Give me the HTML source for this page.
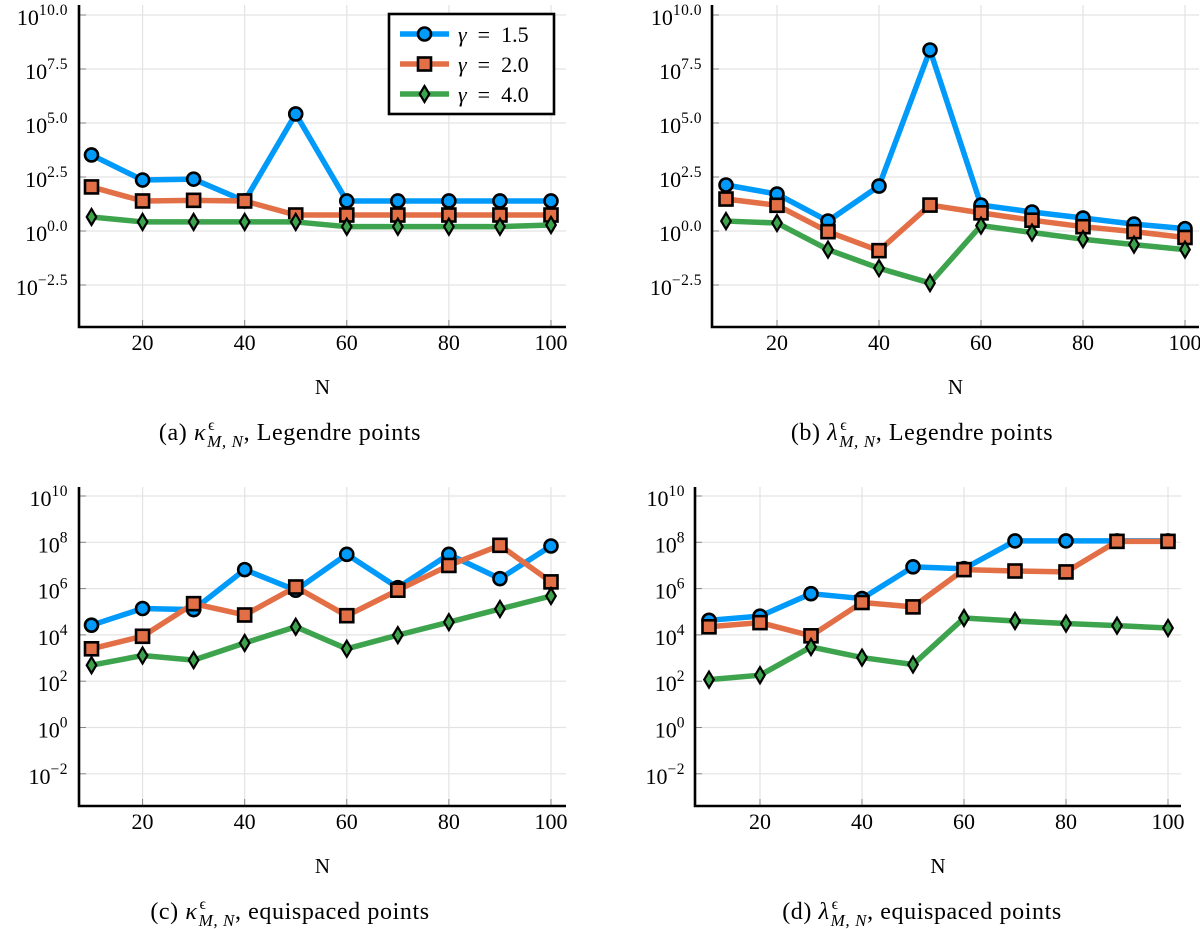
<!DOCTYPE html>
<html><head><meta charset="utf-8"><style>
body{margin:0;background:#fff}
svg{display:block;font-family:"Liberation Serif",serif}
</style></head><body>
<svg id="fig" width="1200" height="929" viewBox="0 0 1200 929"></svg>
<script>
const categoriesN=[10,20,30,40,50,60,70,80,90,100];
const seriesNames=["γ = 1.5","γ = 2.0","γ = 4.0"];
const xTickLabels=[20,40,60,80,100];
const yTicksTop=[10.0,7.5,5.0,2.5,0.0,-2.5];
const yTickLabelsTop=["10.0","7.5","5.0","2.5","0.0","−2.5"];
const yTicksBottom=[10,8,6,4,2,0,-2];
const yTickLabelsBottom=["10","8","6","4","2","0","−2"];
// log10 values
const aBlue=[3.52,2.36,2.4,1.39,5.42,1.39,1.39,1.39,1.39,1.39];
const aOrange=[2.04,1.39,1.42,1.39,0.74,0.74,0.74,0.74,0.74,0.74];
const aGreen=[0.65,0.42,0.42,0.42,0.42,0.2,0.2,0.2,0.2,0.28];
const bBlue=[2.13,1.71,0.46,2.08,8.38,1.2,0.88,0.6,0.32,0.11];
const bOrange=[1.48,1.19,-0.03,-0.91,1.2,0.84,0.5,0.2,-0.03,-0.3];
const bGreen=[0.46,0.37,-0.86,-1.72,-2.41,0.25,-0.07,-0.38,-0.63,-0.86];
const cBlue=[4.42,5.14,5.09,6.82,5.93,7.48,6.04,7.48,6.43,7.84];
const cOrange=[3.4,3.94,5.35,4.86,6.07,4.83,5.93,7.0,7.87,6.29];
const cGreen=[2.69,3.11,2.91,3.65,4.35,3.4,3.99,4.55,5.12,5.68];
const dBlue=[4.63,4.81,5.78,5.57,6.94,6.86,8.06,8.06,8.06,8.06];
const dOrange=[4.35,4.53,3.96,5.4,5.21,6.82,6.76,6.72,8.04,8.04];
const dGreen=[2.07,2.26,3.48,3.02,2.72,4.73,4.6,4.49,4.4,4.3];

const NS="http://www.w3.org/2000/svg";
const svg=document.getElementById('fig');
const COLORS=["#009AFA","#E26F46","#3DA44D"];
function mk(tag,attrs,parent){const e=document.createElementNS(NS,tag);for(const k in attrs)e.setAttribute(k,attrs[k]);(parent||svg).appendChild(e);return e;}
function marker(g,type,x,y,col){
  let m;
  if(type===0) m=mk('circle',{cx:x,cy:y,r:6.5,fill:col,stroke:'#000','stroke-width':2.6},g);
  else if(type===1) m=mk('rect',{x:x-6.5,y:y-6.5,width:13,height:13,fill:col,stroke:'#000','stroke-width':2.6},g);
  else m=mk('polygon',{points:`${x},${y-8} ${x+4.8},${y} ${x},${y+8} ${x-4.8},${y}`,fill:col,stroke:'#000','stroke-width':2.2},g);
  return m;
}
function panel(cfg){
  const g=mk('g',{});
  
  
  const xs=v=>cfg.x10+(v-10)*(cfg.x100-cfg.x10)/90;
  const ys=v=>cfg.y0+(cfg.yRef-v)*cfg.ppu;
  xTickLabels.forEach(t=>{const l=mk('line',{x1:xs(t),x2:xs(t),y1:cfg.top,y2:cfg.bottom,stroke:'#e3e3e3','stroke-width':1.2},g);
    
    mk('line',{x1:xs(t),x2:xs(t),y1:cfg.bottom,y2:cfg.bottom-7,stroke:'#888','stroke-width':1},g);});
  cfg.yTicks.forEach(t=>{const l=mk('line',{x1:cfg.left,x2:cfg.right,y1:ys(t),y2:ys(t),stroke:'#e3e3e3','stroke-width':1.2},g);
    
    mk('line',{x1:cfg.left,x2:cfg.left+7,y1:ys(t),y2:ys(t),stroke:'#888','stroke-width':1},g);});
  const ax=mk('path',{d:`M${cfg.left},${cfg.top} V${cfg.bottom} H${cfg.right}`,fill:'none',stroke:'#000','stroke-width':2.6},g);
  
  xTickLabels.forEach(t=>{const tx=mk('text',{x:xs(t),y:cfg.bottom+23,'text-anchor':'middle','font-size':22},g);tx.textContent=t;
    });
  cfg.yTicks.forEach((t,i)=>{const tx=mk('text',{x:cfg.labelRight,y:ys(t)+10,'text-anchor':'end','font-size':22},g);
    
    const a=mk('tspan',{},tx);a.textContent='10';
    const b=mk('tspan',{dy:-10,'font-size':15.5,'letter-spacing':0.5},tx);b.textContent=cfg.yLabels[i];});
  const nl=mk('text',{x:(cfg.left+cfg.right)/2,y:cfg.bottom+67,'text-anchor':'middle','font-size':21},g);nl.textContent='N';
  
  cfg.series.forEach((vals,si)=>{
    const sg=mk('g',{},g);
    
    
    const pts=vals.map((v,i)=>xs(categoriesN[i])+','+ys(v)).join(' ');
    mk('polyline',{points:pts,fill:'none',stroke:COLORS[si],'stroke-width':5.5,'stroke-linejoin':'round'},sg);
    vals.forEach((v,i)=>{const m=marker(sg,si,xs(categoriesN[i]),ys(v),COLORS[si]);
      });
  });
  const cap=mk('text',{x:cfg.capX,y:cfg.bottom+113,'text-anchor':'middle','font-size':24,'letter-spacing':0.6},g);
  
  let t=mk('tspan',{},cap);t.textContent='('+cfg.letter+') ';
  t=mk('tspan',{'font-style':'italic'},cap);t.textContent=cfg.sym;
  t=mk('tspan',{'font-size':16,dy:-10,dx:2},cap);t.textContent='ϵ';
  t=mk('tspan',{'font-size':17,'font-style':'italic',dy:17,dx:-8},cap);t.textContent='M, N';
  t=mk('tspan',{dy:-7},cap);t.textContent=', '+cfg.capText;
  return {g,xs,ys};
}
const topCfg={yTicks:yTicksTop,yLabels:yTickLabelsTop,yRef:0,y0:231,ppu:21.6,top:5,bottom:327};
const botCfg={yTicks:yTicksBottom,yLabels:yTickLabelsBottom,yRef:0,y0:727.5,ppu:23.15,top:487,bottom:806};
panel(Object.assign({},topCfg,{name:'panel-a',left:79,right:566,x10:91.5,x100:551,labelRight:68,series:[aBlue,aOrange,aGreen],capX:290,letter:'a',sym:'κ',capText:'Legendre points'}));
panel(Object.assign({},topCfg,{name:'panel-b',left:712,right:1199,x10:726,x100:1185,labelRight:702,series:[bBlue,bOrange,bGreen],capX:922,letter:'b',sym:'λ',capText:'Legendre points'}));
panel(Object.assign({},botCfg,{name:'panel-c',left:79,right:566,x10:91.5,x100:551,labelRight:68,series:[cBlue,cOrange,cGreen],capX:290,letter:'c',sym:'κ',capText:'equispaced points'}));
panel(Object.assign({},botCfg,{name:'panel-d',left:695,right:1181,x10:709,x100:1168,labelRight:685,series:[dBlue,dOrange,dGreen],capX:922,letter:'d',sym:'λ',capText:'equispaced points'}));
const lg=mk('g',{});


mk('rect',{x:389,y:14,width:165,height:100,fill:'#fff',stroke:'#000','stroke-width':2.6},lg);
seriesNames.forEach((n,i)=>{
  const y=34+i*30;
  const e=mk('g',{},lg);
  
  
  mk('line',{x1:400,x2:449,y1:y,y2:y,stroke:COLORS[i],'stroke-width':5.5},e);
  marker(e,i,424.5,y,COLORS[i]);
  const tx=mk('text',{x:458,y:y+8,'font-size':22},e);
  const a=mk('tspan',{'font-style':'italic'},tx);a.textContent='γ';
  const b=mk('tspan',{},tx);b.textContent='\u2002=\u2002'+n.slice(4);
});
</script>
</body></html>
